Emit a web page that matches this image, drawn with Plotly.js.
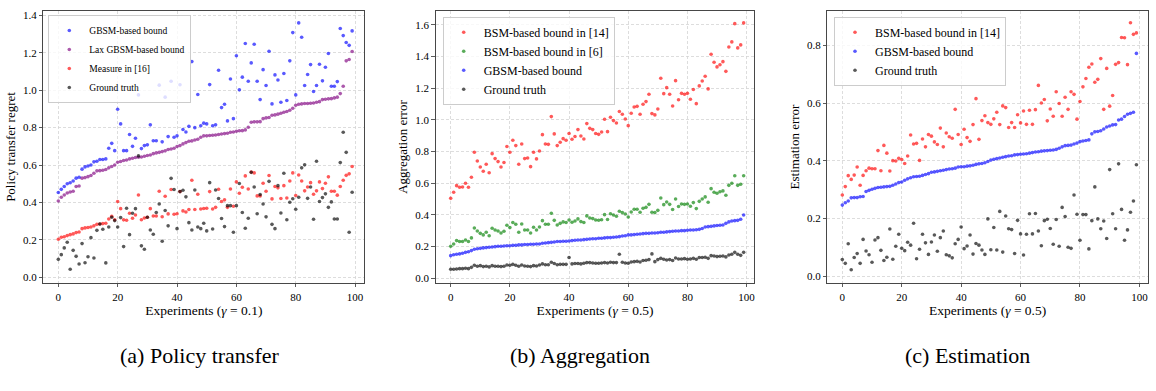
<!DOCTYPE html>
<html>
<head>
<meta charset="utf-8">
<script src="https://cdn.plot.ly/plotly-3.0.1.min.js"></script>
<style>html,body{margin:0;padding:0;background:#fff;}#chart{width:1156px;height:391px;}</style>
</head>
<body>
<div id="chart"></div>
<script>
// ---------- data ----------
const experiments = Array.from({length: 100}, (_, i) => i);

// (a) Policy transfer
const p1Gbsm = [0.453,0.47,0.485,0.50,0.505,0.515,0.53,0.535,0.578,0.59,0.595,0.60,0.617,0.62,0.63,0.63,0.633,0.69,0.716,0.677,0.898,0.82,0.677,0.677,0.763,0.70,0.743,0.975,0.688,0.704,0.708,0.815,0.73,0.73,1.027,0.724,0.963,0.752,1.048,0.749,0.756,1.029,0.79,0.777,0.807,1.153,0.80,0.977,0.81,0.824,
0.82,1.03,0.81,0.815,1.107,0.907,0.925,0.836,1.06,0.848,1.184,1.002,1.07,1.25,1.048,1.146,1.246,1.048,0.95,1.11,1.025,1.208,0.927,1.082,1.055,0.936,1.089,0.945,1.157,1.308,0.975,1.36,1.283,1.025,1.084,1.137,0.993,1.025,1.139,1.05,1.123,1.196,1.021,1.021,1.046,1.33,1.292,1.255,1.24,1.317];
const p1Lax = [0.408,0.428,0.44,0.451,0.456,0.46,0.485,0.488,0.53,0.533,0.538,0.544,0.556,0.569,0.57,0.572,0.576,0.585,0.592,0.60,0.615,0.619,0.624,0.627,0.633,0.636,0.64,0.642,0.643,0.647,0.651,0.654,0.661,0.665,0.668,0.672,0.676,0.683,0.686,0.69,0.699,0.704,0.713,0.72,0.727,0.729,0.734,0.738,0.749,0.756,
0.756,0.758,0.759,0.761,0.763,0.766,0.768,0.77,0.775,0.777,0.781,0.783,0.784,0.788,0.802,0.829,0.831,0.831,0.832,0.848,0.852,0.854,0.866,0.868,0.872,0.877,0.882,0.886,0.893,0.904,0.92,0.925,0.927,0.929,0.929,0.93,0.932,0.936,0.939,0.95,0.952,0.954,0.955,0.959,0.963,0.982,1.021,1.157,1.164,1.207];
const p1Measure = [0.203,0.214,0.217,0.223,0.228,0.232,0.239,0.242,0.26,0.264,0.266,0.269,0.275,0.283,0.285,0.287,0.289,0.312,0.326,0.307,0.405,0.367,0.307,0.305,0.342,0.316,0.333,0.44,0.308,0.317,0.321,0.367,0.328,0.328,0.46,0.324,0.433,0.339,0.469,0.337,0.34,0.458,0.355,0.349,0.362,0.519,0.362,0.444,0.365,0.368,
0.369,0.458,0.365,0.374,0.471,0.405,0.414,0.374,0.472,0.38,0.51,0.449,0.481,0.542,0.472,0.563,0.558,0.435,0.435,0.503,0.46,0.544,0.419,0.485,0.478,0.421,0.49,0.424,0.515,0.558,0.437,0.547,0.515,0.462,0.483,0.506,0.444,0.462,0.51,0.474,0.503,0.537,0.46,0.46,0.439,0.485,0.519,0.545,0.553,0.592];
const p1Truth = [0.096,0.121,0.157,0.187,0.043,0.144,0.112,0.071,0.18,0.078,0.11,0.212,0.103,0.251,0.285,0.257,0.077,0.269,0.321,0.303,0.269,0.319,0.164,0.369,0.228,0.342,0.367,0.649,0.168,0.15,0.321,0.253,0.23,0.346,0.392,0.193,0.357,0.275,0.529,0.469,0.26,0.458,0.465,0.43,0.292,0.253,0.467,0.269,0.26,0.289,
0.248,0.506,0.258,0.467,0.421,0.314,0.271,0.383,0.383,0.241,0.383,0.501,0.346,0.262,0.316,0.561,0.483,0.34,0.442,0.392,0.323,0.513,0.283,0.26,0.49,0.344,0.556,0.308,0.401,0.42,0.364,0.428,0.585,0.601,0.422,0.483,0.31,0.62,0.405,0.426,0.446,0.374,0.403,0.312,0.312,0.613,0.775,0.668,0.241,0.455];

// (b) Aggregation
const p2Bsm14 = [0.505,0.543,0.585,0.575,0.577,0.60,0.575,0.638,0.796,0.741,0.703,0.676,0.72,0.667,0.787,0.756,0.737,0.703,0.731,0.832,0.796,0.872,0.838,0.72,0.848,0.756,0.76,0.705,0.796,0.754,0.804,0.907,0.848,0.846,1.021,0.912,0.838,0.859,0.882,0.872,0.914,0.878,0.895,0.939,0.899,0.88,0.977,0.947,0.939,0.914,
0.909,0.924,1.004,0.926,1.017,0.996,0.981,1.053,1.036,1.006,0.964,1.042,1.082,1.086,1.036,1.099,1.116,1.162,1.04,1.032,1.069,1.263,1.166,1.204,1.162,1.088,1.248,1.128,1.168,1.162,1.168,1.131,1.192,1.103,1.215,1.246,1.276,1.196,1.415,1.364,1.335,1.349,1.368,1.307,1.461,1.493,1.608,1.455,1.474,1.613];
const p2Bsm6 = [0.202,0.217,0.238,0.232,0.232,0.242,0.232,0.255,0.318,0.299,0.284,0.274,0.291,0.269,0.316,0.305,0.299,0.286,0.297,0.335,0.32,0.352,0.341,0.291,0.343,0.305,0.305,0.286,0.322,0.305,0.324,0.364,0.341,0.341,0.411,0.366,0.337,0.347,0.356,0.352,0.368,0.354,0.362,0.375,0.358,0.352,0.394,0.381,0.377,0.368,
0.367,0.37,0.402,0.371,0.408,0.40,0.392,0.423,0.415,0.406,0.387,0.419,0.436,0.436,0.417,0.442,0.448,0.467,0.417,0.415,0.429,0.507,0.465,0.482,0.467,0.434,0.501,0.453,0.469,0.467,0.469,0.455,0.478,0.44,0.486,0.501,0.514,0.48,0.566,0.543,0.537,0.547,0.552,0.524,0.587,0.60,0.648,0.587,0.594,0.648];
const p2Gbsm = [0.143,0.149,0.152,0.154,0.158,0.164,0.168,0.175,0.183,0.187,0.189,0.192,0.194,0.196,0.198,0.20,0.202,0.202,0.204,0.206,0.206,0.208,0.208,0.211,0.211,0.213,0.213,0.215,0.215,0.217,0.217,0.221,0.223,0.225,0.227,0.229,0.232,0.232,0.234,0.234,0.236,0.238,0.24,0.242,0.242,0.244,0.246,0.248,0.25,0.25,
0.253,0.253,0.255,0.257,0.257,0.259,0.261,0.263,0.267,0.269,0.274,0.274,0.276,0.278,0.28,0.282,0.284,0.284,0.286,0.286,0.288,0.291,0.291,0.293,0.295,0.297,0.299,0.299,0.301,0.301,0.303,0.305,0.305,0.307,0.309,0.314,0.324,0.326,0.328,0.331,0.333,0.335,0.337,0.347,0.356,0.362,0.364,0.366,0.373,0.40];
const p2Truth = [0.057,0.057,0.059,0.061,0.061,0.063,0.061,0.069,0.082,0.076,0.08,0.074,0.076,0.072,0.08,0.076,0.076,0.074,0.076,0.084,0.082,0.088,0.082,0.076,0.084,0.078,0.076,0.074,0.08,0.078,0.084,0.091,0.086,0.086,0.101,0.093,0.086,0.088,0.088,0.088,0.131,0.091,0.093,0.093,0.091,0.095,0.099,0.099,0.097,0.095,
0.095,0.097,0.099,0.097,0.101,0.099,0.099,0.152,0.101,0.097,0.095,0.103,0.105,0.107,0.103,0.112,0.114,0.118,0.154,0.105,0.118,0.126,0.12,0.116,0.118,0.112,0.128,0.122,0.122,0.124,0.12,0.122,0.126,0.12,0.131,0.131,0.133,0.126,0.143,0.141,0.137,0.139,0.141,0.135,0.147,0.152,0.164,0.152,0.145,0.164];

// (c) Estimation
const p3Bsm14 = [0.282,0.311,0.349,0.336,0.351,0.379,0.316,0.35,0.366,0.375,0.373,0.373,0.436,0.366,0.454,0.427,0.365,0.401,0.40,0.409,0.405,0.391,0.417,0.49,0.459,0.461,0.402,0.476,0.449,0.492,0.486,0.466,0.457,0.514,0.449,0.497,0.484,0.479,0.579,0.492,0.457,0.51,0.481,0.468,0.526,0.616,0.475,0.54,0.557,0.533,
0.527,0.546,0.569,0.526,0.591,0.585,0.516,0.533,0.516,0.56,0.532,0.573,0.527,0.576,0.527,0.578,0.662,0.601,0.613,0.539,0.58,0.555,0.64,0.599,0.555,0.621,0.579,0.64,0.631,0.545,0.606,0.657,0.686,0.725,0.736,0.673,0.683,0.755,0.579,0.721,0.59,0.627,0.735,0.741,0.828,0.827,0.734,0.879,0.839,0.844];
const p3Gbsm = [0.247,0.255,0.261,0.272,0.273,0.273,0.276,0.277,0.294,0.298,0.302,0.305,0.308,0.309,0.31,0.311,0.312,0.316,0.32,0.325,0.327,0.333,0.338,0.342,0.345,0.346,0.347,0.35,0.353,0.356,0.361,0.362,0.364,0.366,0.368,0.37,0.372,0.373,0.375,0.379,0.38,0.38,0.382,0.383,0.385,0.388,0.39,0.391,0.394,0.398,
0.403,0.406,0.408,0.41,0.413,0.415,0.417,0.418,0.421,0.422,0.423,0.424,0.425,0.427,0.429,0.431,0.432,0.434,0.435,0.436,0.437,0.438,0.44,0.444,0.449,0.453,0.454,0.455,0.459,0.462,0.467,0.469,0.471,0.473,0.494,0.501,0.502,0.505,0.511,0.518,0.521,0.525,0.526,0.542,0.545,0.554,0.562,0.565,0.569,0.773];
const p3Truth = [0.058,0.045,0.113,0.023,0.065,0.079,0.045,0.128,0.088,0.075,0.049,0.126,0.134,0.09,0.055,0.066,0.164,0.059,0.104,0.146,0.097,0.089,0.118,0.108,0.184,0.061,0.094,0.146,0.116,0.076,0.119,0.143,0.087,0.134,0.157,0.075,0.071,0.064,0.113,0.128,0.171,0.096,0.105,0.143,0.077,0.114,0.108,0.091,0.076,0.199,
0.092,0.169,0.091,0.225,0.084,0.209,0.165,0.162,0.079,0.194,0.147,0.074,0.146,0.217,0.147,0.218,0.157,0.106,0.193,0.198,0.166,0.111,0.197,0.104,0.239,0.207,0.101,0.097,0.282,0.215,0.125,0.214,0.214,0.095,0.193,0.31,0.199,0.165,0.192,0.131,0.37,0.217,0.165,0.39,0.232,0.125,0.161,0.222,0.261,0.387];

const xTickVals = [0, 20, 40, 60, 80, 100];
const captions = ['(a) Policy transfer', '(b) Aggregation', '(c) Estimation'];
const xTitles = ['Experiments (<i>γ</i> = 0.1)', 'Experiments (<i>γ</i> = 0.5)', 'Experiments (<i>γ</i> = 0.5)'];
const yTitles = ['Policy transfer regret', 'Aggregation error', 'Estimation error'];

// ---------- styling ----------
const W = 1156, H = 391;
const COL = {
  blue: 'rgba(0,0,255,0.65)', purple: 'rgba(128,0,128,0.65)', red: 'rgba(255,0,0,0.65)',
  green: 'rgba(0,128,0,0.65)', black: 'rgba(0,0,0,0.65)'
};
const FONT = 'Liberation Serif, Times New Roman, Times, serif';

function trace(y, name, color, n, legend) {
  const s = n === 1 ? '' : String(n);
  return {
    type: 'scatter', mode: 'markers', x: experiments, y: y, name: name,
    xaxis: 'x' + s, yaxis: 'y' + s, legend: legend,
    marker: {size: 3.6, color: color, line: {width: 0}},
    hoverinfo: 'skip'
  };
}

const data = [
  trace(p1Gbsm, 'GBSM-based bound', COL.blue, 1, 'legend'),
  trace(p1Lax, 'Lax GBSM-based bound', COL.purple, 1, 'legend'),
  trace(p1Measure, 'Measure in [16]', COL.red, 1, 'legend'),
  trace(p1Truth, 'Ground truth', COL.black, 1, 'legend'),
  trace(p2Bsm14, 'BSM-based bound in [14]', COL.red, 2, 'legend2'),
  trace(p2Bsm6, 'BSM-based bound in [6]', COL.green, 2, 'legend2'),
  trace(p2Gbsm, 'GBSM-based bound', COL.blue, 2, 'legend2'),
  trace(p2Truth, 'Ground truth', COL.black, 2, 'legend2'),
  trace(p3Bsm14, 'BSM-based bound in [14]', COL.red, 3, 'legend3'),
  trace(p3Gbsm, 'GBSM-based bound', COL.blue, 3, 'legend3'),
  trace(p3Truth, 'Ground truth', COL.black, 3, 'legend3')
];

// pixel geometry of the three axes boxes
const boxes = [
  {l: 43.3, r: 364.3, xr: [-5.06, 103.1], yr: [-0.0305, 1.4235]},
  {l: 435.7, r: 754.3, xr: [-5.07, 102.6], yr: [-0.0297, 1.688]},
  {l: 827.3, r: 1148, xr: [-5.05, 102.9], yr: [-0.0232, 0.920]}
];
const plotTop = 11, plotBottom = 283;

function xAxis(i) {
  const b = boxes[i];
  return {
    domain: [b.l / W, b.r / W], range: b.xr, anchor: i === 0 ? 'y' : 'y' + (i + 1),
    tickmode: 'array', tickvals: xTickVals, ticks: 'outside', ticklen: 3.5, tickwidth: 0.8, tickcolor: '#333',
    showline: true, mirror: true, linecolor: '#333', linewidth: 0.9,
    showgrid: true, gridcolor: '#d4d4d4', gridwidth: 0.8, griddash: '3px,2px', zeroline: false,
    tickfont: {family: FONT, size: 11, color: '#000'},
    title: {text: xTitles[i], font: {family: FONT, size: 13.5, color: '#000'}, standoff: 2}
  };
}
function yAxis(i) {
  const b = boxes[i];
  return {
    domain: [1 - plotBottom / H, 1 - plotTop / H], range: b.yr, anchor: i === 0 ? 'x' : 'x' + (i + 1),
    dtick: 0.2, tick0: 0, tickformat: '.1f', ticks: 'outside', ticklen: 3.5, tickwidth: 0.8, tickcolor: '#333',
    showline: true, mirror: true, linecolor: '#333', linewidth: 0.9,
    showgrid: true, gridcolor: '#d4d4d4', gridwidth: 0.8, griddash: '3px,2px', zeroline: false,
    tickfont: {family: FONT, size: 11, color: '#000'},
    title: {text: yTitles[i], font: {family: FONT, size: 13, color: '#000'}, standoff: 4}
  };
}
function legendAt(px, py, size) {
  return {
    x: px / W, y: 1 - py / H, xanchor: 'left', yanchor: 'top',
    bgcolor: 'rgba(255,255,255,0.8)', bordercolor: '#cccccc', borderwidth: 1,
    font: {family: FONT, size: size, color: '#000'}, itemsizing: 'trace', tracegroupgap: 0
  };
}

const layout = {
  width: W, height: H, margin: {l: 0, r: 0, t: 0, b: 0},
  paper_bgcolor: '#fff', plot_bgcolor: '#fff',
  font: {family: FONT, color: '#000'},
  xaxis: xAxis(0), yaxis: yAxis(0),
  xaxis2: xAxis(1), yaxis2: yAxis(1),
  xaxis3: xAxis(2), yaxis3: yAxis(2),
  legend: legendAt(48.3, 15, 9.5),
  legend2: legendAt(442.7, 16.7, 12),
  legend3: legendAt(834, 16.7, 12),
  annotations: captions.map((t, i) => ({
    text: t, xref: 'paper', yref: 'paper', x: [200, 580, 967][i] / W, y: 1 - 355 / H,
    xanchor: 'center', yanchor: 'middle', showarrow: false,
    font: {family: FONT, size: 22, color: '#000'}
  }))
};

Plotly.newPlot('chart', data, layout, {displayModeBar: false, staticPlot: true});
</script>
</body>
</html>
